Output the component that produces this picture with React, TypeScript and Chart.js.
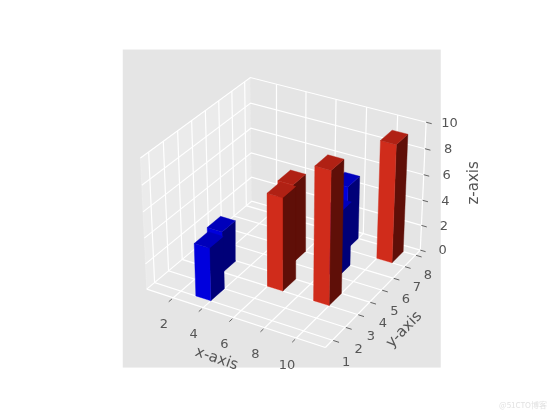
import { useEffect, useRef } from 'react';
import Chart from 'chart.js/auto';

const barX = [3, 2, 6, 5, 9, 10, 8, 7];
const barY = [1, 3, 3, 5, 3, 7, 5, 7];
const barZ = [4.1, 3.2, 7.2, 6.15, 10.2, 9.2, 5, 5];
const barColor = ['blue', 'blue', 'red', 'red', 'red', 'red', 'blue', 'blue'];

const xTicks = [2, 4, 6, 8, 10];
const yTicks = [1, 2, 3, 4, 5, 6, 7, 8];
const zTicks = [0, 2, 4, 6, 8, 10];

const xLim = [0.2, 11.8];
const yLim = [0.45, 8.45];
const zLim = [0, 10.26];
const paneTop = 10;

const shades: Record<string, { front: string; top: string; side: string }> = {
  red: { front: '#d02c1b', top: '#b02114', side: '#5f0f08' },
  blue: { front: '#0000dd', top: '#0000bb', side: '#000078' },
};

// same view as a default mplot3d axes: elev 30, azim -60, dist 10
const elev = (30 * Math.PI) / 180;
const azim = (-60 * Math.PI) / 180;
const dist = 10;
const boxXY = 25 / 21;
const boxZ = 25 / 28;

type P3 = [number, number, number];

const world = ([x, y, z]: P3): P3 => [
  ((x - xLim[0]) / (xLim[1] - xLim[0]) - 0.5) * boxXY,
  ((y - yLim[0]) / (yLim[1] - yLim[0]) - 0.5) * boxXY,
  ((z - zLim[0]) / (zLim[1] - zLim[0]) - 0.5) * boxZ,
];

const n: P3 = [Math.cos(elev) * Math.cos(azim), Math.cos(elev) * Math.sin(azim), Math.sin(elev)];
const uLen = Math.hypot(n[0], n[1]);
const u: P3 = [-n[1] / uLen, n[0] / uLen, 0];
const v: P3 = [
  n[1] * u[2] - n[2] * u[1],
  n[2] * u[0] - n[0] * u[2],
  n[0] * u[1] - n[1] * u[0],
];
const dot = (a: P3, b: P3) => a[0] * b[0] + a[1] * b[1] + a[2] * b[2];

const project = (p: P3) => {
  const w = world(p);
  const depth = dist - dot(w, n);
  return { x: dot(w, u) / depth, y: dot(w, v) / depth };
};

const xSpan = xLim[1] - xLim[0];
const ySpan = yLim[1] - yLim[0];
const zSpan = zLim[1] - zLim[0];

const buildDatasets = () => {
  const list: any[] = [];

  const poly = (pts: P3[], color: string, border = color) => {
    const data = [...pts, pts[0]].map(project);
    list.push({
      data,
      showLine: true,
      fill: 'shape',
      backgroundColor: color,
      borderColor: border,
      borderWidth: 0.4,
      pointRadius: 0,
      tension: 0,
      clip: false,
    });
  };
  const line = (pts: P3[], color: string, width: number) => {
    list.push({
      data: pts.map(project),
      showLine: true,
      fill: false,
      borderColor: color,
      borderWidth: width,
      pointRadius: 0,
      tension: 0,
      clip: false,
    });
  };

  const [x0, x1] = xLim;
  const [y0, y1] = yLim;
  const z0 = zLim[0];
  const z1 = paneTop;

  poly([[x0, y0, z0], [x0, y1, z0], [x0, y1, z1], [x0, y0, z1]], '#ebebeb', '#f2f2f2');
  poly([[x0, y1, z0], [x1, y1, z0], [x1, y1, z1], [x0, y1, z1]], '#e5e5e5', '#e5e5e5');
  poly([[x0, y0, z0], [x1, y0, z0], [x1, y1, z0], [x0, y1, z0]], '#e8e8e8', '#e8e8e8');

  xTicks.forEach((t) => {
    line([[t, y0, z0], [t, y1, z0], [t, y1, z1]], '#ffffff', 1.2);
  });
  yTicks.forEach((t) => {
    line([[x1, t, z0], [x0, t, z0], [x0, t, z1]], '#ffffff', 1.2);
  });
  zTicks.forEach((t) => {
    line([[x0, y0, t], [x0, y1, t], [x1, y1, t]], '#ffffff', 1.2);
  });

  line([[x0, y0, z0], [x1, y0, z0]], '#ffffff', 1.2);
  line([[x1, y0, z0], [x1, y1, z0]], '#ffffff', 1.2);
  line([[x1, y1, z0], [x1, y1, z1]], '#ffffff', 1.2);

  xTicks.forEach((t) => {
    line([[t, y0 - 0.012 * ySpan, z0], [t, y0 - 0.04 * ySpan, z0]], '#555555', 0.9);
  });
  yTicks.forEach((t) => {
    line([[x1 + 0.004 * xSpan, t, z0], [x1 + 0.035 * xSpan, t, z0]], '#555555', 0.9);
  });
  zTicks.forEach((t) => {
    line([[x1, y1, t], [x1 + 0.03 * xSpan, y1, t]], '#555555', 0.9);
  });

  // painter's order, far bars first
  const order = barX
    .map((_, i) => i)
    .sort((a, b) => {
      const ca = world([barX[a] + 0.5, barY[a] + 0.5, barZ[a] / 2]);
      const cb = world([barX[b] + 0.5, barY[b] + 0.5, barZ[b] / 2]);
      return dot(ca, n) - dot(cb, n);
    });

  order.forEach((i) => {
    const xa = barX[i];
    const xb = barX[i] + 1;
    const ya = barY[i];
    const yb = barY[i] + 1;
    const h = barZ[i];
    const c = shades[barColor[i]];
    poly([[xb, ya, 0], [xb, yb, 0], [xb, yb, h], [xb, ya, h]], c.side);
    poly([[xa, ya, 0], [xb, ya, 0], [xb, ya, h], [xa, ya, h]], c.front);
    poly([[xa, ya, h], [xb, ya, h], [xb, yb, h], [xa, yb, h]], c.top);
  });

  // chart.js paints the first dataset last
  return list.reverse();
};

const textPlugin = {
  id: 'axes3dText',
  beforeDraw(chart: any) {
    const { ctx, chartArea } = chart;
    ctx.save();
    ctx.fillStyle = '#e5e5e5';
    ctx.fillRect(chartArea.left, chartArea.top, chartArea.right - chartArea.left, chartArea.bottom - chartArea.top);
    ctx.restore();
  },
  afterDraw(chart: any) {
    const { ctx, scales } = chart;
    const put = (text: string, p: P3, size: number, angle = 0) => {
      const q = project(p);
      ctx.save();
      ctx.translate(scales.x.getPixelForValue(q.x), scales.y.getPixelForValue(q.y));
      ctx.rotate((angle * Math.PI) / 180);
      ctx.font = `${size}px "DejaVu Sans"`;
      ctx.fillStyle = '#555555';
      ctx.textAlign = 'center';
      ctx.textBaseline = 'middle';
      ctx.fillText(text, 0, 0);
      ctx.restore();
    };
    const [x0, x1] = xLim;
    const [y0, y1] = yLim;
    const z0 = zLim[0];
    const z1 = paneTop;
    xTicks.forEach((t) => put(String(t), [t + 0.08, y0 - 0.1 * ySpan, z0 - 0.125 * zSpan], 13));
    yTicks.forEach((t) => put(String(t), [x1 + 0.075 * xSpan, t, z0 - 0.135 * zSpan], 13));
    zTicks.forEach((t) => put(String(t), [x1 + 0.095 * xSpan, y1 + 0.065 * ySpan, t - 0.15], 13));
    put('x-axis', [(x0 + x1) / 2, y0 - 0.16 * ySpan, z0 - 0.19 * zSpan], 15, 19);
    put('y-axis', [x1 + 0.165 * xSpan, (y0 + y1) / 2, z0 - 0.185 * zSpan], 15, -46);
    put('z-axis', [x1 + 0.2 * xSpan, y1 + 0.17 * ySpan, (z0 + z1) / 2], 15, -90);

    ctx.save();
    ctx.font = '8px "Noto Sans CJK SC"';
    ctx.fillStyle = '#e2e2e2';
    ctx.textAlign = 'right';
    ctx.textBaseline = 'middle';
    ctx.fillText('@51CTO博客', 547, 405);
    ctx.restore();
  },
};

const App = () => {
  const chartRef = useRef<HTMLCanvasElement | null>(null);

  useEffect(() => {
    const ctx = chartRef.current?.getContext('2d');
    if (!ctx) return;

    const chart = new Chart(ctx, {
      type: 'scatter',
      data: { datasets: buildDatasets() },
      options: {
        responsive: false,
        animation: false,
        events: [],
        layout: { padding: { left: 122.75, right: 109.25, top: 49.56, bottom: 45.43 } },
        plugins: {
          legend: { display: false },
          tooltip: { enabled: false },
          filler: { drawTime: 'beforeDatasetDraw' },
        },
        scales: {
          x: { display: false, min: -0.095, max: 0.09 },
          y: { display: false, min: -0.095, max: 0.09 },
        },
      },
      plugins: [textPlugin],
    });

    return () => {
      chart.destroy();
    };
  }, []);

  return (
    <div style={{ position: 'fixed', left: 0, top: 0, width: 550, height: 413, background: '#fff' }}>
      <canvas ref={chartRef} width={550} height={413} style={{ display: 'block' }}></canvas>
    </div>
  );
};

export default App;
